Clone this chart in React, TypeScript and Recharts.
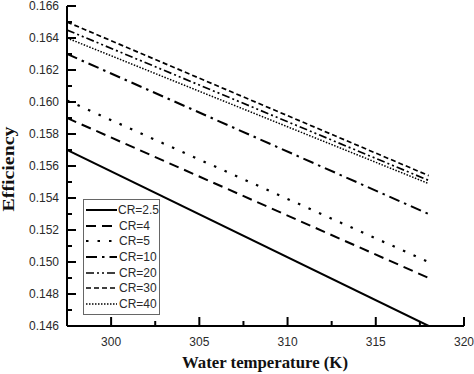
import { LineChart, Line, XAxis, YAxis } from "recharts";

// water temperature (K) at the two ends of each line
const temps = [297.5, 318];

const cr25 = [0.157, 0.146];
const cr4 = [0.159, 0.149];
const cr5 = [0.1601, 0.15];
const cr10 = [0.163, 0.153];
const cr20 = [0.1645, 0.1551];
const cr30 = [0.165, 0.1554];
const cr40 = [0.164, 0.1549];

const xTicks = [300, 302.5, 305, 307.5, 310, 312.5, 315, 317.5, 320];
const yTicks = [
  0.146, 0.147, 0.148, 0.149, 0.15, 0.151, 0.152, 0.153, 0.154, 0.155, 0.156,
  0.157, 0.158, 0.159, 0.16, 0.161, 0.162, 0.163, 0.164, 0.165, 0.166,
];

const series = [
  { key: "CR=2.5", values: cr25, dash: undefined, width: 2 },
  { key: "CR=4", values: cr4, dash: "10 6", width: 2 },
  { key: "CR=5", values: cr5, dash: "2.5 9", width: 2.2 },
  { key: "CR=10", values: cr10, dash: "11 5 2.5 5", width: 2 },
  { key: "CR=20", values: cr20, dash: "8 3 2 3 2 3", width: 1.7 },
  { key: "CR=30", values: cr30, dash: "5 3", width: 1.7 },
  { key: "CR=40", values: cr40, dash: "1.5 1.5", width: 1.5 },
];

const data = temps.map((t, i) => {
  const row: Record<string, number> = { t };
  series.forEach((s) => (row[s.key] = s.values[i]));
  return row;
});

const tickFont = { fontFamily: "'Liberation Sans', Arial, sans-serif", fontSize: 12, fill: "#2a2a2a" };
const titleFont = "'Liberation Serif', 'Times New Roman', serif";

function YTick(props: any) {
  const { x, y, payload } = props;
  const major = Math.round(payload.value * 1000) % 2 === 0;
  return (
    <g>
      <line x1={x} y1={y} x2={x + (major ? 9 : 5)} y2={y} stroke="#000" strokeWidth={2} />
      {major && (
        <text x={x - 8} y={y + 4} textAnchor="end" {...tickFont}>
          {payload.value.toFixed(3)}
        </text>
      )}
    </g>
  );
}

function XTick(props: any) {
  const { x, y, payload } = props;
  const major = payload.value % 5 === 0;
  return (
    <g>
      <line x1={x} y1={y} x2={x} y2={y - (major ? 9 : 5)} stroke="#000" strokeWidth={2} />
      {major && (
        <text x={x} y={y + 20} textAnchor="middle" {...tickFont}>
          {payload.value}
        </text>
      )}
    </g>
  );
}

function LegendBox() {
  return (
    <div
      style={{
        position: "absolute",
        left: 83,
        top: 199,
        border: "1px solid #666",
        background: "#fff",
        width: 77,
        padding: "2px 0",
        boxSizing: "border-box",
      }}
    >
      {series.map((s) => (
        <div key={s.key} style={{ display: "flex", alignItems: "center", height: 15.7 }}>
          <svg width={33} height={10} style={{ marginLeft: 2 }}>
            <line x1={0} y1={5} x2={31} y2={5} stroke="#000" strokeWidth={s.width} strokeDasharray={s.dash} />
          </svg>
          <span style={{ fontFamily: tickFont.fontFamily, color: "#2a2a2a", fontSize: 12, lineHeight: "12px" }}>
            {s.key}
          </span>
        </div>
      ))}
    </div>
  );
}

export default function App() {
  return (
    <div style={{ position: "fixed", left: 0, top: 0, width: 474, height: 374, background: "#fff" }}>
      <LineChart width={474} height={374} data={data} margin={{ top: 6, right: 10, left: 0, bottom: 0 }}>
        <XAxis
          dataKey="t"
          type="number"
          domain={[297.5, 320]}
          ticks={xTicks}
          interval={0}
          tickSize={0}
          tickMargin={0}
          height={48}
          axisLine={{ stroke: "#000", strokeWidth: 2 }}
          tickLine={false}
          tick={<XTick />}
          allowDataOverflow
          label={{
            content: (p: any) => (
              <text
                x={265}
                y={p.viewBox.y + 42}
                textAnchor="middle"
                fontFamily={titleFont}
                fontWeight="bold"
                fontSize={17}
                textLength={166}
                lengthAdjust="spacingAndGlyphs"
                fill="#111"
              >
                Water temperature (K)
              </text>
            ),
          }}
        />
        <YAxis
          type="number"
          domain={[0.146, 0.166]}
          ticks={yTicks}
          interval={0}
          tickSize={0}
          tickMargin={0}
          width={67}
          axisLine={{ stroke: "#000", strokeWidth: 2 }}
          tickLine={false}
          tick={<YTick />}
          allowDataOverflow
          label={{
            content: () => (
              <text
                x={14}
                y={169}
                textAnchor="middle"
                transform="rotate(-90 14 169)"
                fontFamily={titleFont}
                fontWeight="bold"
                fontSize={16}
                textLength={85}
                lengthAdjust="spacingAndGlyphs"
                fill="#111"
              >
                Efficiency
              </text>
            ),
          }}
        />
        {series.map((s) => (
          <Line
            key={s.key}
            dataKey={s.key}
            stroke="#000"
            strokeWidth={s.width}
            strokeDasharray={s.dash}
            dot={false}
            activeDot={false}
            isAnimationActive={false}
          />
        ))}
      </LineChart>
      <LegendBox />
    </div>
  );
}
